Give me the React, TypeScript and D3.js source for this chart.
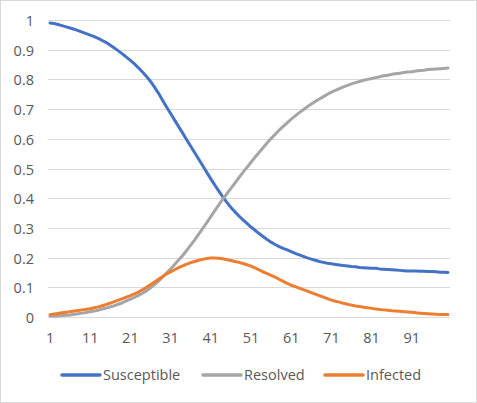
import * as d3 from "d3";

const WIDTH = 477;
const HEIGHT = 403;
const MARGIN = { top: 20, right: 27, bottom: 86, left: 48 };

const susceptible = [
  0.99, 0.988, 0.985, 0.981, 0.977, 0.973, 0.969, 0.964, 0.959, 0.954,
  0.949, 0.944, 0.938, 0.931, 0.924, 0.915, 0.906, 0.896, 0.886, 0.875,
  0.864, 0.852, 0.839, 0.825, 0.81, 0.793, 0.774, 0.753, 0.73, 0.707,
  0.685, 0.663, 0.641, 0.619, 0.597, 0.575, 0.553, 0.531, 0.509, 0.487,
  0.465, 0.444, 0.424, 0.404, 0.386, 0.369, 0.354, 0.34, 0.327, 0.315,
  0.303, 0.292, 0.281, 0.271, 0.261, 0.252, 0.244, 0.237, 0.231, 0.226,
  0.22, 0.214, 0.209, 0.204, 0.199, 0.195, 0.191, 0.187, 0.184, 0.181,
  0.179, 0.177, 0.175, 0.173, 0.172, 0.17, 0.169, 0.167, 0.166, 0.165,
  0.164, 0.164, 0.162, 0.161, 0.16, 0.159, 0.158, 0.157, 0.156, 0.155,
  0.155, 0.155, 0.154, 0.154, 0.153, 0.153, 0.152, 0.151, 0.151, 0.15,
];

const resolved = [
  0.003, 0.003, 0.004, 0.005, 0.006, 0.007, 0.009, 0.011, 0.013, 0.015,
  0.018, 0.02, 0.023, 0.027, 0.03, 0.034, 0.038, 0.043, 0.048, 0.054,
  0.06, 0.066, 0.073, 0.08, 0.088, 0.098, 0.109, 0.121, 0.134, 0.148,
  0.162, 0.177, 0.192, 0.207, 0.224, 0.242, 0.26, 0.279, 0.298, 0.318,
  0.338, 0.358, 0.378, 0.397, 0.415, 0.433, 0.451, 0.469, 0.487, 0.504,
  0.521, 0.538, 0.554, 0.57, 0.586, 0.601, 0.615, 0.629, 0.642, 0.654,
  0.666, 0.677, 0.688, 0.698, 0.708, 0.717, 0.726, 0.734, 0.742, 0.75,
  0.757, 0.763, 0.769, 0.775, 0.78, 0.785, 0.789, 0.793, 0.797, 0.8,
  0.803, 0.806, 0.809, 0.812, 0.814, 0.817, 0.819, 0.821, 0.823, 0.825,
  0.826, 0.828, 0.83, 0.831, 0.833, 0.834, 0.835, 0.836, 0.837, 0.838,
];

const infected = [
  0.008, 0.01, 0.012, 0.014, 0.016, 0.018, 0.02, 0.022, 0.024, 0.026,
  0.028, 0.031, 0.034, 0.038, 0.042, 0.047, 0.052, 0.057, 0.062, 0.067,
  0.072, 0.078, 0.084, 0.092, 0.1, 0.109, 0.118, 0.127, 0.136, 0.145,
  0.152, 0.159, 0.166, 0.172, 0.178, 0.183, 0.187, 0.191, 0.194, 0.197,
  0.199, 0.199, 0.198, 0.196, 0.193, 0.19, 0.187, 0.184, 0.18, 0.176,
  0.171, 0.165, 0.159, 0.152, 0.146, 0.14, 0.134, 0.127, 0.12, 0.113,
  0.107, 0.102, 0.097, 0.092, 0.087, 0.082, 0.077, 0.072, 0.067, 0.062,
  0.057, 0.053, 0.05, 0.046, 0.043, 0.04, 0.037, 0.035, 0.033, 0.031,
  0.029, 0.027, 0.025, 0.024, 0.023, 0.021, 0.02, 0.019, 0.018, 0.017,
  0.016, 0.014, 0.013, 0.012, 0.011, 0.01, 0.009, 0.008, 0.008, 0.008,
];

const days = d3.range(1, 101);
const xTickLabels = [1, 11, 21, 31, 41, 51, 61, 71, 81, 91];
const yTicks = [0, 0.1, 0.2, 0.3, 0.4, 0.5, 0.6, 0.7, 0.8, 0.9, 1];

const series = [
  { name: "Susceptible", values: susceptible, color: "#4472C4" },
  { name: "Resolved", values: resolved, color: "#A5A5A5" },
  { name: "Infected", values: infected, color: "#ED7D31" },
];
// legend item left edges
const legendX = [62, 203, 325];

const FONT = "'Open Sans', sans-serif";
const TEXT_COLOR = "#595959";

export default function App() {
  const boundsWidth = WIDTH - MARGIN.left - MARGIN.right;
  const boundsHeight = HEIGHT - MARGIN.top - MARGIN.bottom;

  const xScale = d3
    .scalePoint<number>()
    .domain(days)
    .range([0, boundsWidth])
    .padding(0.5);
  const yScale = d3.scaleLinear().domain([0, 1]).range([boundsHeight, 0]);

  const line = (vals: number[]) =>
    d3
      .line<number>()
      .x((_, i) => xScale(days[i]) ?? 0)
      .y((d) => yScale(d))(vals) || "";

  return (
    <div>
      <style>{`body{margin:0}`}</style>
      <svg width={WIDTH} height={HEIGHT} style={{ display: "block", fontFamily: FONT }}>
        <rect x={0.5} y={0.5} width={WIDTH - 1} height={HEIGHT - 1} fill="#fff" stroke="#d9d9d9" />
        <g transform={`translate(${MARGIN.left},${MARGIN.top})`}>
          {/* gridlines + y labels */}
          {yTicks.map((t) => (
            <g key={t} transform={`translate(0,${Math.round(yScale(t)) + 0.5})`}>
              <line x1={0} x2={boundsWidth} stroke="#d9d9d9" strokeWidth={1} />
              <text x={-14} dy="0.35em" textAnchor="end" fontSize={14.5} fill={TEXT_COLOR}>
                {String(+t.toFixed(1))}
              </text>
            </g>
          ))}
          {/* x labels */}
          {xTickLabels.map((t) => (
            <text
              key={t}
              x={xScale(t)}
              y={boundsHeight + 21}
              dy="0.35em"
              textAnchor="middle"
              fontSize={14.5}
              fill={TEXT_COLOR}
            >
              {t}
            </text>
          ))}
          {series.map((s) => (
            <path
              key={s.name}
              d={line(s.values)}
              fill="none"
              stroke={s.color}
              strokeWidth={3}
              strokeLinejoin="round"
              strokeLinecap="round"
            />
          ))}
        </g>
        {/* legend */}
        <g transform={`translate(0,375)`}>
          {series.map((s, i) => (
            <g key={s.name} transform={`translate(${legendX[i]},0)`}>
              <line x1={0} x2={38} stroke={s.color} strokeWidth={3.5} strokeLinecap="round" />
              <text x={41} dy="0.35em" fontSize={14.5} fill={TEXT_COLOR}>
                {s.name}
              </text>
            </g>
          ))}
        </g>
      </svg>
    </div>
  );
}
